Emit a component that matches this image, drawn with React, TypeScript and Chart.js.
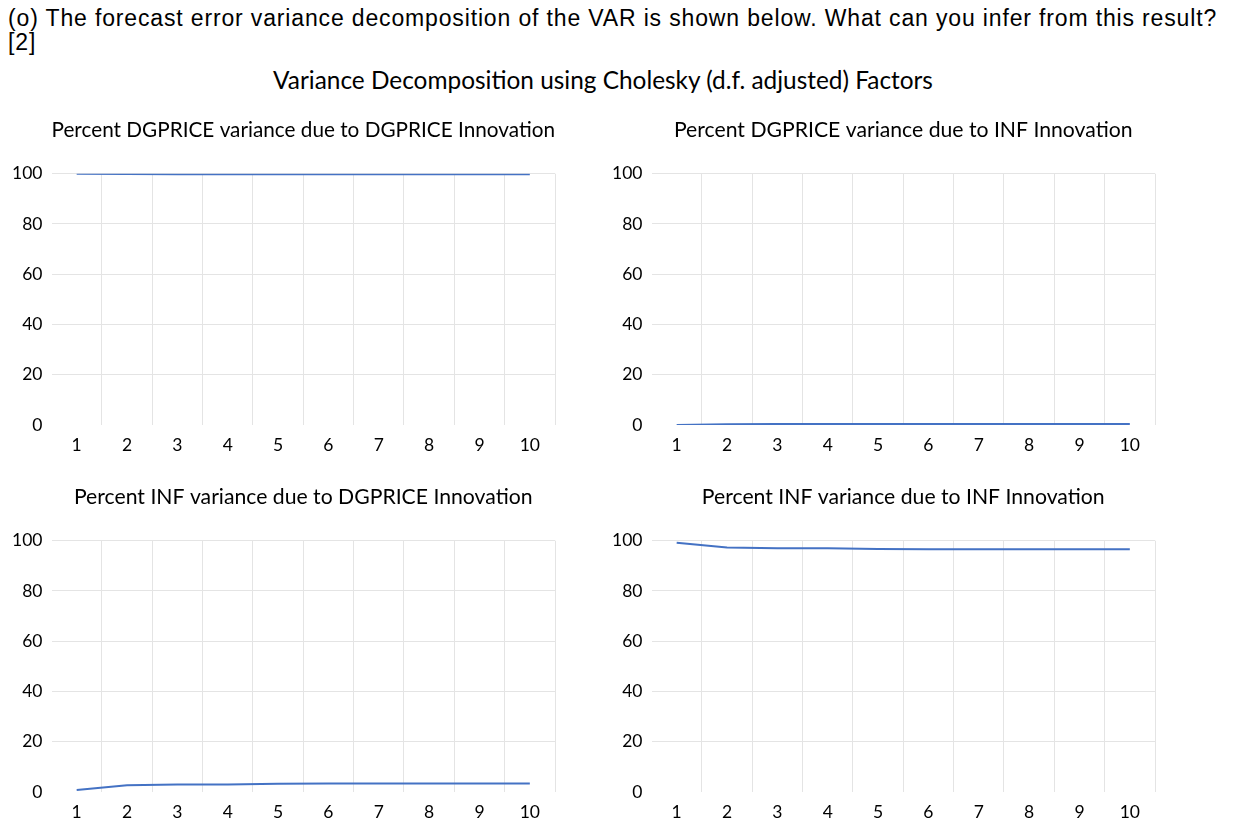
import React, { useEffect, useRef } from "react";
import { Chart, registerables } from "chart.js";

Chart.register(...registerables);

// ---- data ----
const periods = ["1", "2", "3", "4", "5", "6", "7", "8", "9", "10"];
const yTicks = [0, 20, 40, 60, 80, 100];
const dgpriceDueDgprice = [100, 99.9, 99.8, 99.8, 99.8, 99.8, 99.8, 99.8, 99.8, 99.8];
const dgpriceDueInf = [0, 0.3, 0.4, 0.4, 0.4, 0.4, 0.4, 0.4, 0.4, 0.4];
const infDueDgprice = [0.8, 2.7, 3.0, 3.0, 3.3, 3.4, 3.4, 3.4, 3.4, 3.4];
const infDueInf = [99.2, 97.3, 97.0, 97.0, 96.7, 96.6, 96.6, 96.6, 96.6, 96.6];

const questionText =
  "(o) The forecast error variance decomposition of the VAR is shown below. What can you infer from this result?";
const questionMark = "[2]";
const mainTitle = "Variance Decomposition using Cholesky (d.f. adjusted) Factors";
const panelTitles = [
  "Percent DGPRICE variance due to DGPRICE Innovation",
  "Percent DGPRICE variance due to INF Innovation",
  "Percent INF variance due to DGPRICE Innovation",
  "Percent INF variance due to INF Innovation",
];

const FONT = "Lato, 'Noto Sans', sans-serif";
const LINE_COLOR = "#4472C4";
const GRID_COLOR = "#e4e4e4";

const CW = 600;
const CH = 355;
const TITLE_SIZE = 21.2;
const TICK_SIZE = 17.5;

function Panel({ title, values, left, top }: { title: string; values: number[]; left: number; top: number }) {
  const ref = useRef<HTMLCanvasElement | null>(null);
  useEffect(() => {
    if (!ref.current) return;
    const titleLine = TITLE_SIZE * 1.2;
    const padTop = 30 - titleLine / 2;
    const padBottom = 73.7 - padTop - titleLine;
    const chart = new Chart(ref.current, {
      type: "line",
      data: {
        labels: periods,
        datasets: [
          {
            data: values,
            borderColor: LINE_COLOR,
            backgroundColor: LINE_COLOR,
            borderWidth: 2,
            pointRadius: 0,
            tension: 0,
            fill: false,
          },
        ],
      },
      options: {
        animation: false,
        responsive: false,
        devicePixelRatio: 1,
        layout: { padding: { left: 0, right: 45, top: 0, bottom: 0 } },
        plugins: {
          legend: { display: false },
          tooltip: { enabled: false },
          title: {
            display: true,
            text: title,
            fullSize: false,
            color: "#000",
            font: { family: FONT, size: TITLE_SIZE, weight: "normal" },
            padding: { top: padTop, bottom: padBottom },
          },
        },
        scales: {
          x: {
            offset: true,
            border: { display: false },
            grid: {
              offset: true,
              drawTicks: false,
              lineWidth: 1,
              color: (ctx: any) =>
                ctx.index === 0 || ctx.index >= periods.length ? "rgba(0,0,0,0)" : GRID_COLOR,
            },
            ticks: {
              autoSkip: false,
              maxRotation: 0,
              padding: 10,
              color: "#000",
              font: { family: FONT, size: TICK_SIZE },
            },
            afterFit: (s: any) => {
              s.height = 30;
            },
          },
          y: {
            min: 0,
            max: 100,
            border: { display: false },
            afterBuildTicks: (s: any) => {
              s.ticks = yTicks.map((v) => ({ value: v }));
            },
            grid: {
              drawTicks: false,
              lineWidth: 1,
              color: (ctx: any) => (ctx.tick && ctx.tick.value === 0 ? "rgba(0,0,0,0)" : GRID_COLOR),
            },
            ticks: {
              padding: 9,
              color: "#000",
              font: { family: FONT, size: TICK_SIZE },
            },
            afterFit: (s: any) => {
              s.width = 51.5;
            },
          },
        },
      },
    } as any);
    return () => chart.destroy();
  }, [title, values]);
  return (
    <canvas
      ref={ref}
      width={CW}
      height={CH}
      style={{ position: "absolute", left, top, width: CW, height: CH }}
    />
  );
}

export default function App() {
  return (
    <div
      style={{
        position: "absolute",
        left: 0,
        top: 0,
        width: 1258,
        height: 834,
        background: "#fff",
        overflow: "hidden",
      }}
    >
      <div
        style={{
          position: "absolute",
          left: 8,
          top: 6,
          fontFamily: "'Liberation Sans', Arial, sans-serif",
          fontSize: 23,
          letterSpacing: "0.85px",
          lineHeight: "24px",
          color: "#000",
          whiteSpace: "nowrap",
        }}
      >
        {questionText}
        <br />
        {questionMark}
      </div>
      <div
        style={{
          position: "absolute",
          left: 0,
          width: 1206,
          top: 65,
          textAlign: "center",
          fontFamily: FONT,
          fontSize: 24.4,
          lineHeight: "30px",
          color: "#000",
          whiteSpace: "nowrap",
        }}
      >
        {mainTitle}
      </div>
      <Panel title={panelTitles[0]} values={dgpriceDueDgprice} left={0} top={100} />
      <Panel title={panelTitles[1]} values={dgpriceDueInf} left={600} top={100} />
      <Panel title={panelTitles[2]} values={infDueDgprice} left={0} top={467} />
      <Panel title={panelTitles[3]} values={infDueInf} left={600} top={467} />
    </div>
  );
}
